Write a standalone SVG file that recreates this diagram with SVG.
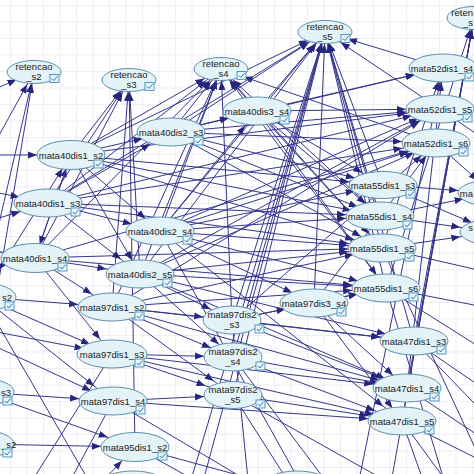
<svg xmlns="http://www.w3.org/2000/svg" xmlns:xlink="http://www.w3.org/1999/xlink" width="474" height="474" viewBox="0 0 474 474">
<style>
.bg{fill:#ffffff}
.node ellipse{fill:#e3f3f8;stroke:#5d8fae;stroke-width:1}
text{font-family:"Liberation Sans",Arial,sans-serif;font-size:9.5px;fill:#222;text-anchor:middle}
text.r{text-anchor:end}
text.l{text-anchor:start}
.e line{stroke:#36368c;stroke-width:1;fill:none}
.m34{marker-end:url(#a34)}.m29{marker-end:url(#a29)}.m24{marker-end:url(#a24)}.m19{marker-end:url(#a19)}.m16{marker-end:url(#a16)}.m14{marker-end:url(#a14)}.m12{marker-end:url(#a12)}
</style>
<defs>
<pattern id="grid" width="16.5" height="16.5" patternUnits="userSpaceOnUse" x="10" y="5"><path d="M0,0 H16.5 M0,0 V16.5" stroke="#e0e0ee" stroke-width="1" fill="none"/></pattern>
<marker id="a34" viewBox="0 -4 10 8" markerWidth="10" markerHeight="8" markerUnits="userSpaceOnUse" refX="43" refY="0" orient="auto"><path d="M0,-3.5 L9,0 L0,3.5 Z" fill="#26267e"/></marker>
<marker id="a29" viewBox="0 -4 10 8" markerWidth="10" markerHeight="8" markerUnits="userSpaceOnUse" refX="38" refY="0" orient="auto"><path d="M0,-3.5 L9,0 L0,3.5 Z" fill="#26267e"/></marker>
<marker id="a24" viewBox="0 -4 10 8" markerWidth="10" markerHeight="8" markerUnits="userSpaceOnUse" refX="33" refY="0" orient="auto"><path d="M0,-3.5 L9,0 L0,3.5 Z" fill="#26267e"/></marker>
<marker id="a19" viewBox="0 -4 10 8" markerWidth="10" markerHeight="8" markerUnits="userSpaceOnUse" refX="28" refY="0" orient="auto"><path d="M0,-3.5 L9,0 L0,3.5 Z" fill="#26267e"/></marker>
<marker id="a16" viewBox="0 -4 10 8" markerWidth="10" markerHeight="8" markerUnits="userSpaceOnUse" refX="25" refY="0" orient="auto"><path d="M0,-3.5 L9,0 L0,3.5 Z" fill="#26267e"/></marker>
<marker id="a14" viewBox="0 -4 10 8" markerWidth="10" markerHeight="8" markerUnits="userSpaceOnUse" refX="23" refY="0" orient="auto"><path d="M0,-3.5 L9,0 L0,3.5 Z" fill="#26267e"/></marker>
<marker id="a12" viewBox="0 -4 10 8" markerWidth="10" markerHeight="8" markerUnits="userSpaceOnUse" refX="21" refY="0" orient="auto"><path d="M0,-3.5 L9,0 L0,3.5 Z" fill="#26267e"/></marker>
<g id="cb"><rect x="0" y="0" width="9" height="8" fill="#eaf6fb" stroke="#3f8fc0" stroke-width="0.9"/><path d="M1.8,4 L3.8,6 L7.6,1.6" fill="none" stroke="#2f6fa0" stroke-width="1"/></g>
</defs>
<rect class="bg" width="474" height="474"/>
<rect width="474" height="474" fill="url(#grid)"/>
<g id="edges" class="e">
<line class="m19" x1="-30" y1="100" x2="34" y2="72"/>
<line class="m14" x1="-45" y1="215" x2="34" y2="72"/>
<line class="m12" x1="-18" y1="297" x2="34" y2="72"/>
<line class="m12" x1="-20" y1="392" x2="34" y2="72"/>
<line class="m14" x1="71" y1="155" x2="129" y2="80"/>
<line class="m14" x1="48" y1="203" x2="129" y2="80"/>
<line class="m14" x1="35" y1="258" x2="129" y2="80"/>
<line class="m12" x1="140" y1="274" x2="129" y2="80"/>
<line class="m12" x1="112" y1="307" x2="129" y2="80"/>
<line class="m12" x1="135" y1="447" x2="129" y2="80"/>
<line class="m19" x1="71" y1="155" x2="221" y2="69"/>
<line class="m16" x1="171" y1="132" x2="221" y2="69"/>
<line class="m16" x1="257" y1="111" x2="221" y2="69"/>
<line class="m12" x1="160" y1="231" x2="221" y2="69"/>
<line class="m12" x1="140" y1="274" x2="221" y2="69"/>
<line class="m19" x1="48" y1="203" x2="221" y2="69"/>
<line class="m16" x1="35" y1="258" x2="221" y2="69"/>
<line class="m16" x1="380" y1="216" x2="221" y2="69"/>
<line class="m16" x1="382" y1="248" x2="221" y2="69"/>
<line class="m24" x1="436" y1="143" x2="221" y2="69"/>
<line class="m14" x1="112" y1="307" x2="221" y2="69"/>
<line class="m12" x1="232" y1="320" x2="221" y2="69"/>
<line class="m14" x1="386" y1="288" x2="221" y2="69"/>
<line class="m19" x1="71" y1="155" x2="325" y2="32"/>
<line class="m19" x1="171" y1="132" x2="325" y2="32"/>
<line class="m16" x1="257" y1="111" x2="325" y2="32"/>
<line class="m16" x1="160" y1="231" x2="325" y2="32"/>
<line class="m19" x1="48" y1="203" x2="325" y2="32"/>
<line class="m12" x1="232" y1="320" x2="325" y2="32"/>
<line class="m12" x1="233" y1="357" x2="325" y2="32"/>
<line class="m12" x1="233" y1="395" x2="325" y2="32"/>
<line class="m12" x1="314" y1="303" x2="325" y2="32"/>
<line class="m12" x1="383" y1="185" x2="325" y2="32"/>
<line class="m12" x1="380" y1="216" x2="325" y2="32"/>
<line class="m12" x1="382" y1="248" x2="325" y2="32"/>
<line class="m12" x1="386" y1="288" x2="325" y2="32"/>
<line class="m24" x1="443" y1="68" x2="325" y2="32"/>
<line class="m19" x1="440" y1="109" x2="325" y2="32"/>
<line class="m12" x1="185" y1="500" x2="325" y2="32"/>
<line class="m12" x1="198" y1="500" x2="325" y2="32"/>
<line class="m12" x1="414" y1="341" x2="325" y2="32"/>
<line class="m14" x1="140" y1="274" x2="325" y2="32"/>
<line class="m12" x1="414" y1="341" x2="474" y2="18"/>
<line class="m12" x1="407" y1="388" x2="474" y2="18"/>
<line class="m12" x1="402" y1="421" x2="474" y2="18"/>
<line class="m12" x1="388" y1="500" x2="474" y2="18"/>
<line class="m12" x1="386" y1="288" x2="474" y2="18"/>
<line class="m29" x1="257" y1="111" x2="443" y2="68"/>
<line class="m29" x1="171" y1="132" x2="443" y2="68"/>
<line class="m14" x1="355" y1="500" x2="443" y2="68"/>
<line class="m14" x1="382" y1="248" x2="443" y2="68"/>
<line class="m14" x1="407" y1="388" x2="443" y2="68"/>
<line class="m34" x1="257" y1="111" x2="440" y2="109"/>
<line class="m34" x1="171" y1="132" x2="440" y2="109"/>
<line class="m24" x1="160" y1="231" x2="440" y2="109"/>
<line class="m29" x1="48" y1="203" x2="440" y2="109"/>
<line class="m34" x1="71" y1="155" x2="440" y2="109"/>
<line class="m24" x1="140" y1="274" x2="440" y2="109"/>
<line class="m24" x1="112" y1="307" x2="440" y2="109"/>
<line class="m29" x1="160" y1="231" x2="436" y2="143"/>
<line class="m24" x1="140" y1="274" x2="436" y2="143"/>
<line class="m29" x1="35" y1="258" x2="436" y2="143"/>
<line class="m34" x1="171" y1="132" x2="436" y2="143"/>
<line class="m19" x1="232" y1="320" x2="436" y2="143"/>
<line class="m34" x1="48" y1="203" x2="436" y2="143"/>
<line class="m16" x1="314" y1="303" x2="436" y2="143"/>
<line class="m34" x1="71" y1="155" x2="383" y2="185"/>
<line class="m29" x1="171" y1="132" x2="383" y2="185"/>
<line class="m24" x1="257" y1="111" x2="383" y2="185"/>
<line class="m29" x1="160" y1="231" x2="383" y2="185"/>
<line class="m34" x1="160" y1="231" x2="380" y2="216"/>
<line class="m24" x1="171" y1="132" x2="380" y2="216"/>
<line class="m34" x1="48" y1="203" x2="380" y2="216"/>
<line class="m19" x1="257" y1="111" x2="380" y2="216"/>
<line class="m29" x1="71" y1="155" x2="380" y2="216"/>
<line class="m34" x1="160" y1="231" x2="382" y2="248"/>
<line class="m34" x1="140" y1="274" x2="382" y2="248"/>
<line class="m34" x1="35" y1="258" x2="382" y2="248"/>
<line class="m34" x1="48" y1="203" x2="382" y2="248"/>
<line class="m24" x1="171" y1="132" x2="382" y2="248"/>
<line class="m29" x1="71" y1="155" x2="382" y2="248"/>
<line class="m29" x1="112" y1="307" x2="382" y2="248"/>
<line class="m19" x1="257" y1="111" x2="382" y2="248"/>
<line class="m34" x1="140" y1="274" x2="386" y2="288"/>
<line class="m34" x1="112" y1="307" x2="386" y2="288"/>
<line class="m34" x1="35" y1="258" x2="386" y2="288"/>
<line class="m29" x1="232" y1="320" x2="386" y2="288"/>
<line class="m29" x1="314" y1="303" x2="386" y2="288"/>
<line class="m29" x1="160" y1="231" x2="386" y2="288"/>
<line class="m16" x1="257" y1="111" x2="386" y2="288"/>
<line class="m34" x1="383" y1="185" x2="492" y2="193"/>
<line class="m29" x1="380" y1="216" x2="492" y2="193"/>
<line class="m19" x1="436" y1="143" x2="492" y2="193"/>
<line class="m34" x1="380" y1="216" x2="494" y2="232"/>
<line class="m34" x1="382" y1="248" x2="494" y2="232"/>
<line class="m24" x1="383" y1="185" x2="494" y2="232"/>
<line x1="382" y1="248" x2="500" y2="275"/>
<line x1="386" y1="288" x2="500" y2="310"/>
<line x1="414" y1="341" x2="500" y2="400"/>
<line x1="414" y1="341" x2="500" y2="430"/>
<line x1="407" y1="388" x2="500" y2="450"/>
<line x1="402" y1="421" x2="500" y2="470"/>
<line x1="386" y1="288" x2="500" y2="360"/>
<line x1="440" y1="109" x2="500" y2="150"/>
<line class="m34" x1="-40" y1="155" x2="71" y2="155"/>
<line class="m14" x1="35" y1="258" x2="71" y2="155"/>
<line class="m16" x1="-18" y1="297" x2="71" y2="155"/>
<line class="m29" x1="71" y1="155" x2="171" y2="132"/>
<line class="m24" x1="48" y1="203" x2="171" y2="132"/>
<line class="m29" x1="171" y1="132" x2="257" y2="111"/>
<line class="m19" x1="160" y1="231" x2="257" y2="111"/>
<line class="m29" x1="-40" y1="185" x2="48" y2="203"/>
<line class="m29" x1="-40" y1="230" x2="48" y2="203"/>
<line class="m34" x1="-40" y1="245" x2="35" y2="258"/>
<line class="m29" x1="-40" y1="275" x2="35" y2="258"/>
<line class="m14" x1="71" y1="155" x2="35" y2="258"/>
<line class="m19" x1="71" y1="155" x2="160" y2="231"/>
<line class="m29" x1="48" y1="203" x2="160" y2="231"/>
<line class="m24" x1="48" y1="203" x2="140" y2="274"/>
<line class="m34" x1="35" y1="258" x2="140" y2="274"/>
<line class="m16" x1="71" y1="155" x2="140" y2="274"/>
<line class="m24" x1="35" y1="258" x2="112" y2="307"/>
<line class="m34" x1="-18" y1="297" x2="112" y2="307"/>
<line class="m29" x1="112" y1="307" x2="232" y2="320"/>
<line class="m24" x1="140" y1="274" x2="232" y2="320"/>
<line class="m29" x1="232" y1="320" x2="314" y2="303"/>
<line class="m24" x1="160" y1="231" x2="314" y2="303"/>
<line class="m24" x1="-18" y1="297" x2="112" y2="354"/>
<line class="m29" x1="-40" y1="325" x2="112" y2="354"/>
<line class="m19" x1="35" y1="258" x2="112" y2="354"/>
<line class="m29" x1="112" y1="354" x2="233" y2="357"/>
<line class="m24" x1="112" y1="307" x2="233" y2="357"/>
<line class="m19" x1="140" y1="274" x2="233" y2="357"/>
<line class="m34" x1="-20" y1="392" x2="113" y2="401"/>
<line class="m24" x1="-18" y1="297" x2="113" y2="401"/>
<line class="m24" x1="-40" y1="330" x2="113" y2="401"/>
<line class="m29" x1="113" y1="401" x2="233" y2="395"/>
<line class="m29" x1="112" y1="354" x2="233" y2="395"/>
<line class="m24" x1="112" y1="307" x2="233" y2="395"/>
<line class="m34" x1="-20" y1="444" x2="135" y2="447"/>
<line class="m19" x1="85" y1="500" x2="135" y2="447"/>
<line class="m29" x1="-20" y1="392" x2="135" y2="447"/>
<line class="m34" x1="232" y1="320" x2="414" y2="341"/>
<line class="m34" x1="112" y1="307" x2="414" y2="341"/>
<line class="m29" x1="140" y1="274" x2="414" y2="341"/>
<line class="m34" x1="112" y1="354" x2="407" y2="388"/>
<line class="m29" x1="232" y1="320" x2="407" y2="388"/>
<line class="m29" x1="233" y1="357" x2="407" y2="388"/>
<line class="m19" x1="314" y1="303" x2="407" y2="388"/>
<line class="m24" x1="140" y1="274" x2="407" y2="388"/>
<line class="m29" x1="112" y1="307" x2="407" y2="388"/>
<line class="m34" x1="233" y1="395" x2="402" y2="421"/>
<line class="m34" x1="113" y1="401" x2="402" y2="421"/>
<line class="m29" x1="233" y1="357" x2="402" y2="421"/>
<line class="m29" x1="112" y1="354" x2="402" y2="421"/>
<line class="m16" x1="314" y1="303" x2="402" y2="421"/>
<line class="m24" x1="160" y1="231" x2="402" y2="421"/>
<line x1="233" y1="395" x2="300" y2="500"/>
<line x1="233" y1="357" x2="340" y2="500"/>
<line x1="113" y1="401" x2="60" y2="500"/>
<line x1="135" y1="447" x2="230" y2="500"/>
<line x1="402" y1="421" x2="460" y2="500"/>
<line x1="112" y1="354" x2="20" y2="500"/>
<line x1="-18" y1="297" x2="100" y2="500"/>
<line x1="135" y1="447" x2="330" y2="500"/>
<line x1="233" y1="395" x2="420" y2="500"/>
<line x1="402" y1="421" x2="430" y2="500"/>
<line x1="113" y1="401" x2="280" y2="500"/>
<line x1="386" y1="288" x2="450" y2="500"/>
<line x1="382" y1="248" x2="490" y2="480"/>
<line x1="160" y1="231" x2="310" y2="500"/>
<line x1="232" y1="320" x2="250" y2="500"/>
</g>
<g id="nodes">
<g id="retencao_s2" class="node"><ellipse cx="34" cy="72" rx="27" ry="11.5"/><text x="34" y="70">retencao</text><text x="34" y="80">_s2</text><use xlink:href="#cb" x="50" y="74.5"/></g>
<g id="retencao_s3" class="node"><ellipse cx="129" cy="80" rx="27" ry="11.5"/><text x="129" y="78">retencao</text><text x="129" y="88">_s3</text><use xlink:href="#cb" x="145" y="82.5"/></g>
<g id="retencao_s4" class="node"><ellipse cx="221" cy="69" rx="27" ry="11.5"/><text x="221" y="67">retencao</text><text x="221" y="77">_s4</text><use xlink:href="#cb" x="237" y="71.5"/></g>
<g id="retencao_s5" class="node"><ellipse cx="325" cy="32" rx="27" ry="11.5"/><text x="325" y="30">retencao</text><text x="325" y="40">_s5</text><use xlink:href="#cb" x="341" y="34.5"/></g>
<g id="retencao_s6" class="node"><ellipse cx="474" cy="18" rx="27" ry="11.5"/><text class="r" x="473" y="16">reten</text><text class="r" x="473" y="26">_s</text></g>
<g id="mata52dis1_s4" class="node"><ellipse cx="443" cy="68" rx="34" ry="14"/><text x="442" y="71.5" style="font-size:9.2px">mata52dis1_s4</text><use xlink:href="#cb" x="465" y="73"/></g>
<g id="mata52dis1_s5" class="node"><ellipse cx="440" cy="109" rx="34" ry="14"/><text x="440" y="112.5">mata52dis1_s5</text><use xlink:href="#cb" x="463" y="114"/></g>
<g id="mata52dis1_s6" class="node"><ellipse cx="436" cy="143" rx="34" ry="14"/><text x="436" y="146.5">mata52dis1_s6</text><use xlink:href="#cb" x="459" y="148"/></g>
<g id="mata40dis3_s4" class="node"><ellipse cx="257" cy="111" rx="34" ry="14"/><text x="257" y="114.5">mata40dis3_s4</text><use xlink:href="#cb" x="280" y="116"/></g>
<g id="mata40dis2_s3" class="node"><ellipse cx="171" cy="132" rx="34" ry="14"/><text x="171" y="135.5">mata40dis2_s3</text><use xlink:href="#cb" x="194" y="137"/></g>
<g id="mata40dis1_s2" class="node"><ellipse cx="71" cy="155" rx="34" ry="14.5"/><text x="71" y="158.5">mata40dis1_s2</text><use xlink:href="#cb" x="94" y="160"/></g>
<g id="mata40dis1_s3" class="node"><ellipse cx="48" cy="203" rx="34" ry="14"/><text x="48" y="206.5">mata40dis1_s3</text><use xlink:href="#cb" x="71" y="208"/></g>
<g id="mata40dis2_s4" class="node"><ellipse cx="160" cy="231" rx="34" ry="14"/><text x="160" y="234.5">mata40dis2_s4</text><use xlink:href="#cb" x="183" y="236"/></g>
<g id="mata40dis1_s4" class="node"><ellipse cx="35" cy="258" rx="34" ry="14.5"/><text x="35" y="261.5">mata40dis1_s4</text><use xlink:href="#cb" x="58" y="263"/></g>
<g id="mata40dis2_s5" class="node"><ellipse cx="140" cy="274" rx="34" ry="14"/><text x="140" y="277.5">mata40dis2_s5</text><use xlink:href="#cb" x="163" y="279"/></g>
<g id="mata97dis1_s2" class="node"><ellipse cx="112" cy="307" rx="34" ry="14"/><text x="112" y="310.5">mata97dis1_s2</text><use xlink:href="#cb" x="135" y="312"/></g>
<g id="mata97dis2_s3" class="node"><ellipse cx="232" cy="320" rx="29" ry="14"/><text x="232" y="318">mata97dis2</text><text x="232" y="328">_s3</text><use xlink:href="#cb" x="255" y="325"/></g>
<g id="mata97dis3_s4" class="node"><ellipse cx="314" cy="303" rx="34" ry="14"/><text x="314" y="306.5">mata97dis3_s4</text><use xlink:href="#cb" x="337" y="308"/></g>
<g id="mata97dis1_s3" class="node"><ellipse cx="112" cy="354" rx="35" ry="14"/><text x="112" y="357.5">mata97dis1_s3</text><use xlink:href="#cb" x="135" y="359"/></g>
<g id="mata97dis2_s4" class="node"><ellipse cx="233" cy="357" rx="29" ry="14"/><text x="233" y="355">mata97dis2</text><text x="233" y="365">_s4</text><use xlink:href="#cb" x="256" y="362"/></g>
<g id="mata97dis1_s4" class="node"><ellipse cx="113" cy="401" rx="34" ry="14"/><text x="113" y="404.5">mata97dis1_s4</text><use xlink:href="#cb" x="136" y="406"/></g>
<g id="mata97dis2_s5" class="node"><ellipse cx="233" cy="395" rx="29" ry="13.5"/><text x="233" y="393">mata97dis2</text><text x="233" y="403">_s5</text><use xlink:href="#cb" x="256" y="400"/></g>
<g id="mata95dis1_s2" class="node"><ellipse cx="135" cy="447" rx="34" ry="14.5"/><text x="135" y="450.5">mata95dis1_s2</text><use xlink:href="#cb" x="158" y="452"/></g>
<g id="mata55dis1_s3" class="node"><ellipse cx="383" cy="185" rx="34" ry="13.5"/><text x="383" y="188.5">mata55dis1_s3</text><use xlink:href="#cb" x="406" y="190"/></g>
<g id="mata55dis1_s4" class="node"><ellipse cx="380" cy="216" rx="34" ry="14"/><text x="380" y="219.5">mata55dis1_s4</text><use xlink:href="#cb" x="403" y="221"/></g>
<g id="mata55dis1_s5" class="node"><ellipse cx="382" cy="248" rx="34" ry="14"/><text x="382" y="251.5">mata55dis1_s5</text><use xlink:href="#cb" x="405" y="253"/></g>
<g id="mata55dis1_s6" class="node"><ellipse cx="386" cy="288" rx="34" ry="14"/><text x="386" y="291.5">mata55dis1_s6</text><use xlink:href="#cb" x="409" y="293"/></g>
<g id="mata47dis1_s3" class="node"><ellipse cx="414" cy="341" rx="34" ry="14"/><text x="414" y="344.5">mata47dis1_s3</text><use xlink:href="#cb" x="437" y="346"/></g>
<g id="mata47dis1_s4" class="node"><ellipse cx="407" cy="388" rx="34" ry="14"/><text x="407" y="391.5">mata47dis1_s4</text><use xlink:href="#cb" x="430" y="393"/></g>
<g id="mata47dis1_s5" class="node"><ellipse cx="402" cy="421" rx="34" ry="14"/><text x="402" y="424.5">mata47dis1_s5</text><use xlink:href="#cb" x="425" y="426"/></g>
<g id="left_s2a" class="node"><ellipse cx="-18" cy="297" rx="34" ry="14"/><text class="l" x="2" y="300.5">s2</text><use xlink:href="#cb" x="5" y="302"/></g>
<g id="left_s3" class="node"><ellipse cx="-20" cy="392" rx="34" ry="14"/><text class="l" x="1" y="395.5">s3</text><use xlink:href="#cb" x="3" y="397"/></g>
<g id="left_s2b" class="node"><ellipse cx="-20" cy="444" rx="34" ry="14"/><text class="l" x="1" y="447.5">_s2</text><use xlink:href="#cb" x="3" y="449"/></g>
<g id="right_a" class="node"><ellipse cx="492" cy="193" rx="34" ry="13"/><text class="r" x="473" y="196.5">ma</text></g>
<g id="right_b" class="node"><ellipse cx="494" cy="232" rx="34" ry="13"/><text class="r" x="473" y="231">s</text></g>
<g id="bottom_a" class="node"><ellipse cx="133" cy="485" rx="34" ry="14"/></g>
<g id="bottom_b" class="node"><ellipse cx="297" cy="485" rx="34" ry="14"/></g>
</g>
</svg>
